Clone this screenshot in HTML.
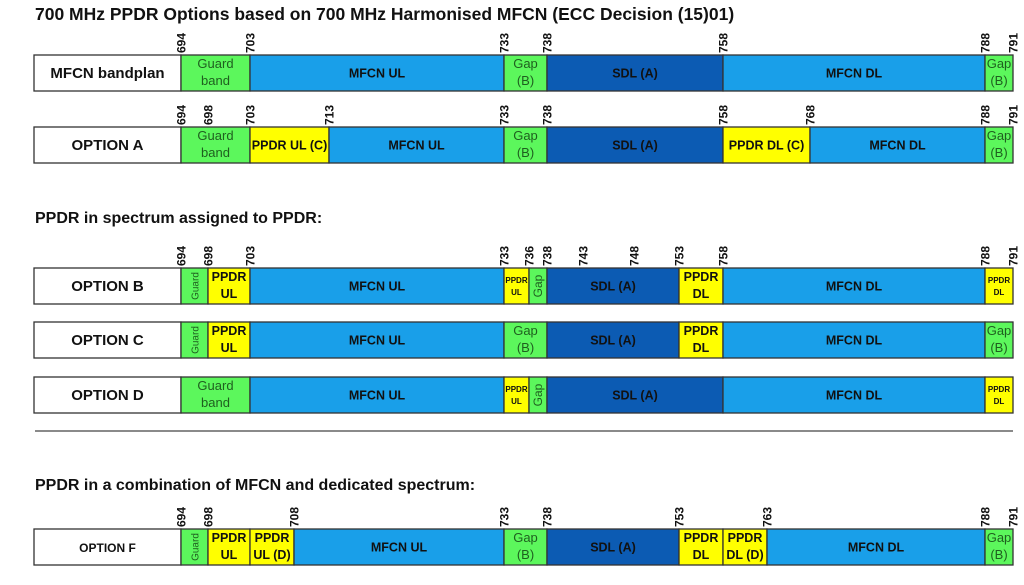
<!DOCTYPE html>
<html><head><meta charset="utf-8"><style>
body{margin:0;background:#fff;}
svg{display:block;font-family:"Liberation Sans",sans-serif;}
</style></head><body>
<svg id="c" width="1024" height="585" viewBox="0 0 1024 585">
<text x="35" y="20" font-size="17.5" font-weight="bold" fill="#111">700 MHz PPDR Options based on 700 MHz Harmonised MFCN (ECC Decision (15)01)</text>
<text x="35" y="223" font-size="16" font-weight="bold" fill="#111">PPDR in spectrum assigned to PPDR:</text>
<line x1="35" y1="431" x2="1013" y2="431" stroke="#444" stroke-width="1.2"/>
<text x="35" y="490" font-size="16" font-weight="bold" fill="#111">PPDR in a combination of MFCN and dedicated spectrum:</text>
<g id="rows"></g>
</svg>
<script>
// axis breakpoints (frequency MHz)
const axisFreqs=[694,698,703,708,713,733,736,738,743,748,753,758,763,768,788,791];
const axisPix  =[181,208,250,294,329,504,529,547,583,634,679,723,767,810,985,1013];
// row data
const rowNames=["MFCN bandplan","OPTION A","OPTION B","OPTION C","OPTION D","OPTION F"];
const rowTops=[55,127,268,322,377,529];
const rowTicks=[
 [694,703,733,738,758,788,791],
 [694,698,703,713,733,738,758,768,788,791],
 [694,698,703,733,736,738,743,748,753,758,788,791],
 [],[],
 [694,698,708,733,738,753,763,788,791]];
// segments: [from,to,type,label]
const rowSegs=[
 [[694,703,"g","Guard|band"],[703,733,"b","MFCN UL"],[733,738,"g","Gap|(B)"],[738,758,"d","SDL (A)"],[758,788,"b","MFCN DL"],[788,791,"g","Gap|(B)"]],
 [[694,703,"g","Guard|band"],[703,713,"y","PPDR UL (C)"],[713,733,"b","MFCN UL"],[733,738,"g","Gap|(B)"],[738,758,"d","SDL (A)"],[758,768,"y","PPDR DL (C)"],[768,788,"b","MFCN DL"],[788,791,"g","Gap|(B)"]],
 [[694,698,"gv","Guard"],[698,703,"y","PPDR|UL"],[703,733,"b","MFCN UL"],[733,736,"ys","PPDR|UL"],[736,738,"gv","Gap"],[738,753,"d","SDL (A)"],[753,758,"y","PPDR|DL"],[758,788,"b","MFCN DL"],[788,791,"ys","PPDR|DL"]],
 [[694,698,"gv","Guard"],[698,703,"y","PPDR|UL"],[703,733,"b","MFCN UL"],[733,738,"g","Gap|(B)"],[738,753,"d","SDL (A)"],[753,758,"y","PPDR|DL"],[758,788,"b","MFCN DL"],[788,791,"g","Gap|(B)"]],
 [[694,703,"g","Guard|band"],[703,733,"b","MFCN UL"],[733,736,"ys","PPDR|UL"],[736,738,"gv","Gap"],[738,758,"d","SDL (A)"],[758,788,"b","MFCN DL"],[788,791,"ys","PPDR|DL"]],
 [[694,698,"gv","Guard"],[698,703,"y","PPDR|UL"],[703,708,"y","PPDR|UL (D)"],[708,733,"b","MFCN UL"],[733,738,"g","Gap|(B)"],[738,753,"d","SDL (A)"],[753,758,"y","PPDR|DL"],[758,763,"y","PPDR|DL (D)"],[763,788,"b","MFCN DL"],[788,791,"g","Gap|(B)"]]];

const H=36, X0=34;
function xs(f){
  for(let i=0;i<axisFreqs.length-1;i++){
    if(f<=axisFreqs[i+1]){const t=(f-axisFreqs[i])/(axisFreqs[i+1]-axisFreqs[i]);return axisPix[i]+t*(axisPix[i+1]-axisPix[i]);}
  }
  return axisPix[axisPix.length-1];
}
const NS="http://www.w3.org/2000/svg";
const root=document.getElementById('rows');
function mk(tag,a,p){const e=document.createElementNS(NS,tag);for(const k in a)e.setAttribute(k,a[k]);(p||root).appendChild(e);return e;}
const fills={g:"#5cf75c",gv:"#5cf75c",b:"#199fe9",d:"#0c5bb3",y:"#ffff00",ys:"#ffff00"};
rowNames.forEach((name,r)=>{
  const top=rowTops[r];
  const g=mk('g',{});
  
  
  const lb=mk('rect',{x:X0,y:top,width:xs(694)-X0,height:H,fill:"#fff",stroke:"#333","stroke-width":1.3},g);
  
  
  const lt=mk('text',{x:(X0+xs(694))/2,y:top+H/2+5,"text-anchor":"middle","font-size":r==5?12:15,"font-weight":"bold",fill:"#111"},g);
  lt.textContent=name;
  
  
  rowSegs[r].forEach(s=>{
    const x1=xs(s[0]),x2=xs(s[1]),ty=s[2];
    const rc=mk('rect',{x:x1,y:top,width:x2-x1,height:H,fill:fills[ty],stroke:"#333","stroke-width":1.3},g);
    
    
    const cx=(x1+x2)/2, cy=top+H/2;
    const green=ty[0]=="g";
    const col=green?"#1f5f1f":"#111";
    const wt=green?"normal":"bold";
    if(ty=="gv"){
      const t=mk('text',{x:cx+4,y:cy,"text-anchor":"middle","font-size":s[3]=="Gap"?12:10,fill:col,transform:`rotate(-90 ${cx+4} ${cy})`},g);
      t.textContent=s[3];
      
      
    } else {
      const lines=s[3].split('|');
      const fs=ty=="ys"?8:(green?13:(lines.length>1?12.5:12.5));
      lines.forEach((ln,i)=>{
        const yy=lines.length==1?cy+4.5:cy-4+i*(ty=="ys"?12:17)+(ty=="ys"?1:-1);
        const t=mk('text',{x:cx,y:yy,"text-anchor":"middle","font-size":fs,"font-weight":wt,fill:col},g);
        t.textContent=ln;
        
        
      });
    }
  });
  rowTicks[r].forEach(f=>{
    const x=xs(f)+4.5, y=top-2;
    const t=mk('text',{x:x,y:y,"font-size":12,"font-weight":"bold",fill:"#111",transform:`rotate(-90 ${x} ${y})`},g);
    t.textContent=f;
    
    
  });
});
</script>
</body></html>
